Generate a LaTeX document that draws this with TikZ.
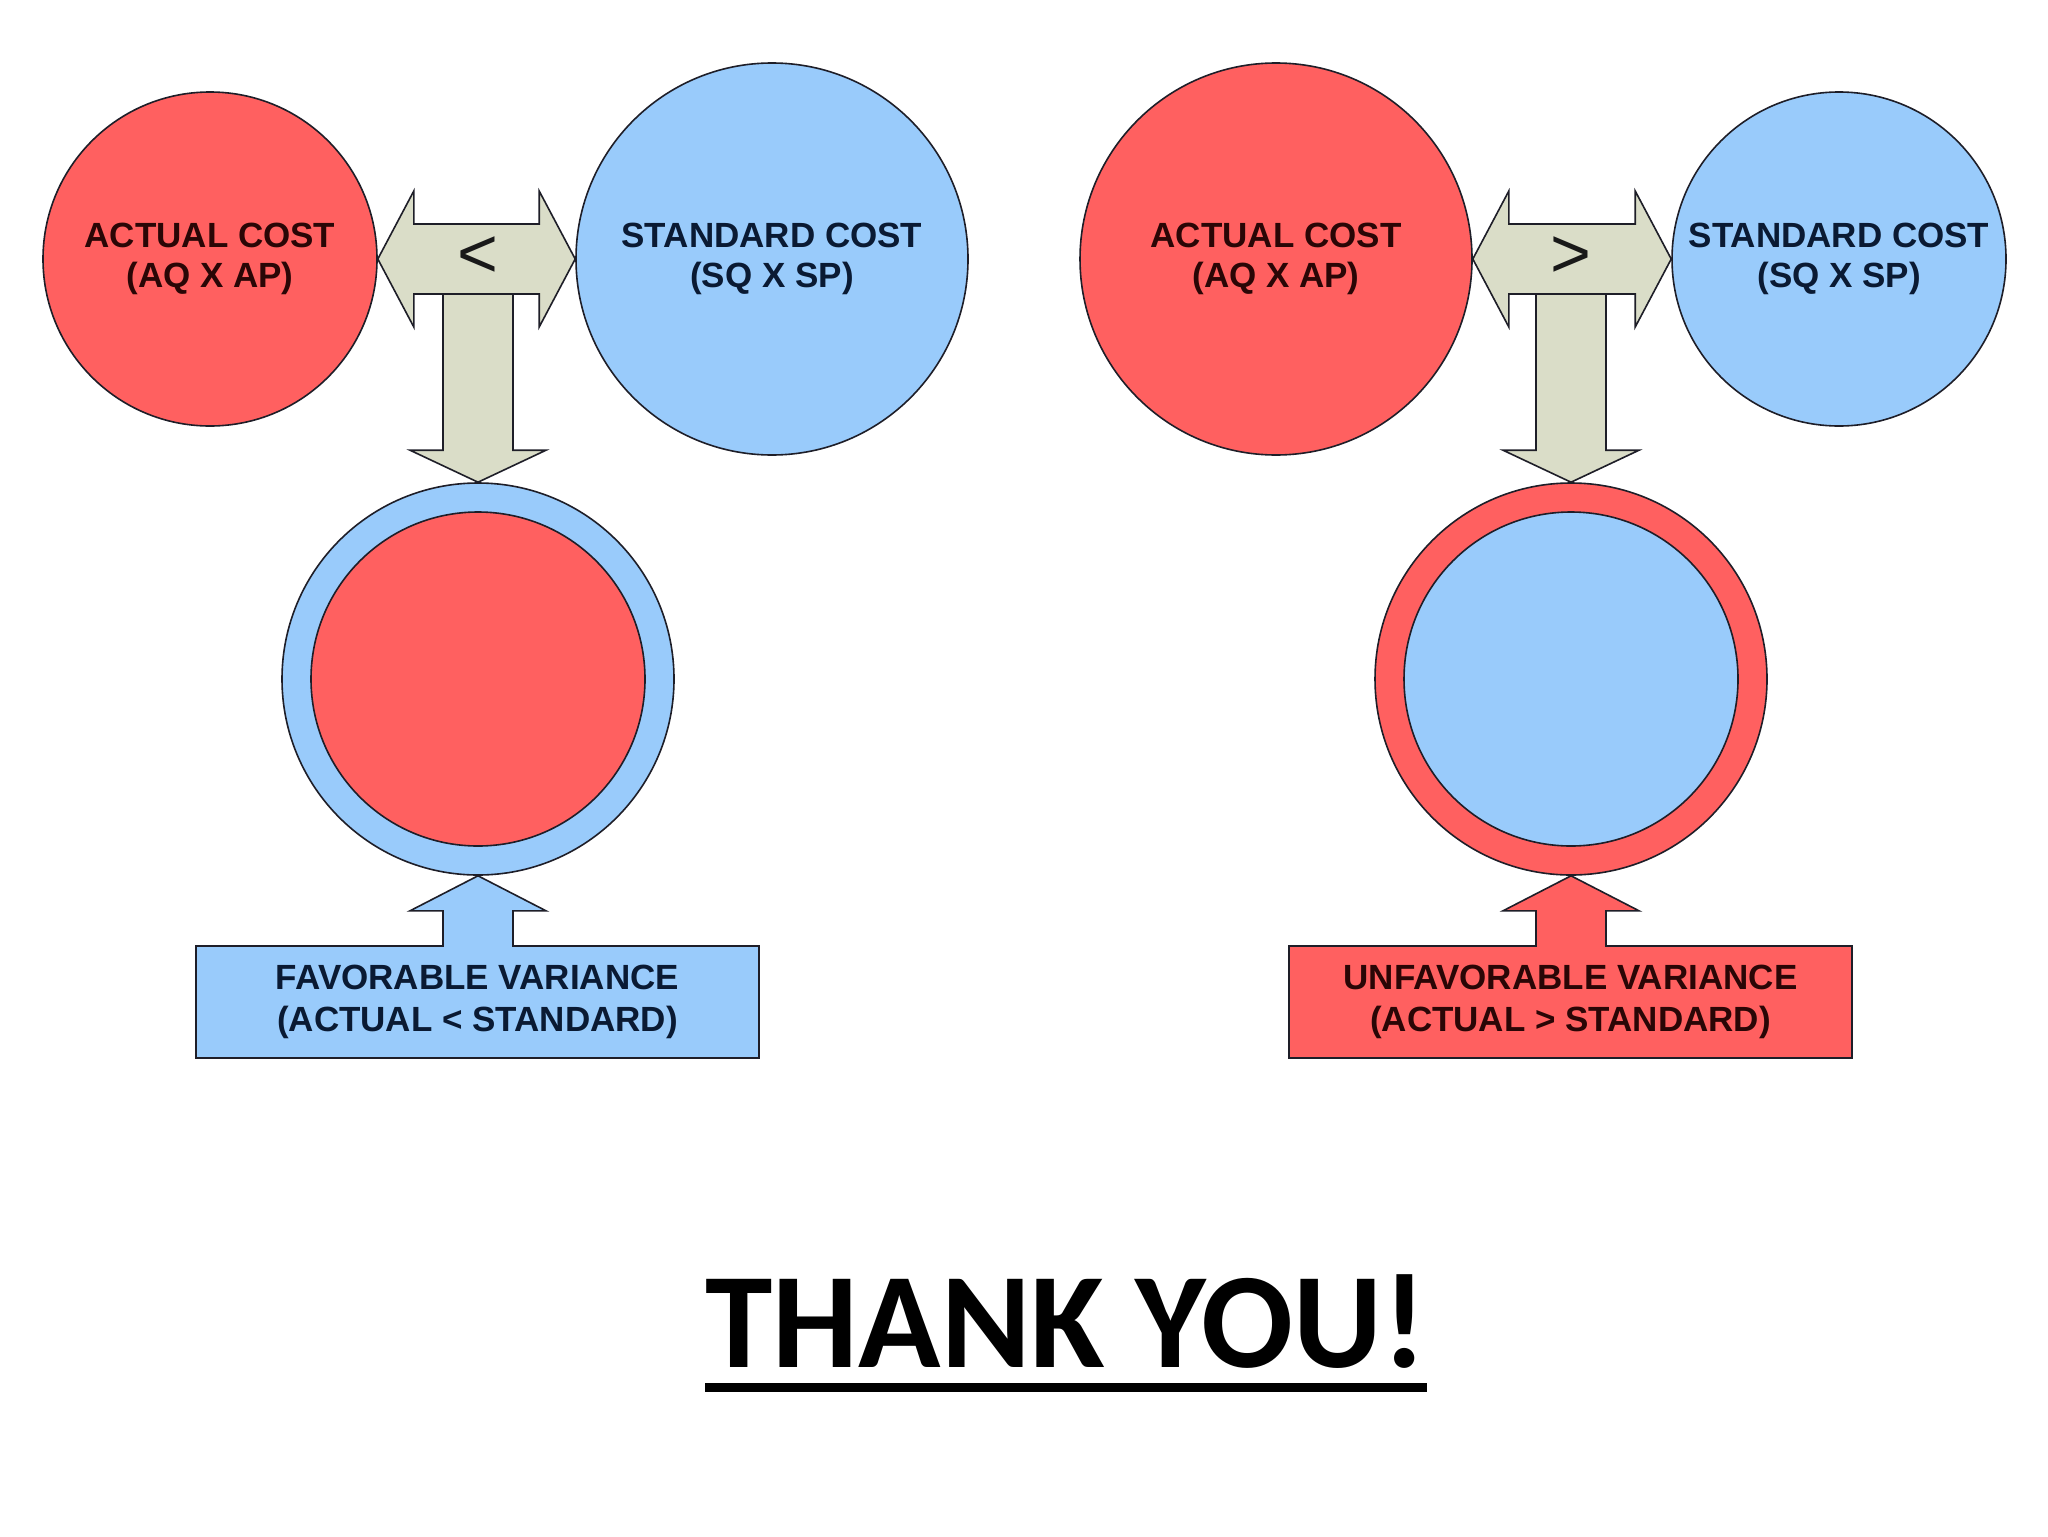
\documentclass[tikz,border=0pt]{standalone}
\usepackage{fontspec}
\setmainfont{Liberation Sans}
\newfontfamily\thankfont{Carlito}
\usetikzlibrary{calc}
\definecolor{redc}{HTML}{FF6060}
\definecolor{bluec}{HTML}{99CBFB}
\definecolor{arrowc}{HTML}{DADDC8}
\definecolor{redtxt}{HTML}{2A0606}
\definecolor{bluetxt}{HTML}{0A1A33}
\definecolor{edge}{HTML}{1E1E28}
\newcommand\DoubleArrow[2]{%
  \filldraw[arrowshape] (#1) -- ($(#1)+(36,-68)$) -- ($(#1)+(36,-35)$) -- ($(#2)+(-36,-35)$) -- ($(#2)+(-36,-68)$) -- (#2) -- ($(#2)+(-36,68)$) -- ($(#2)+(-36,35)$) -- ($(#1)+(36,35)$) -- ($(#1)+(36,68)$) -- cycle;}
\newcommand\DownArrow[1]{%
  \filldraw[arrowshape] ($(#1)+(-35,-190)$) -- ($(#1)+(-35,-32)$) -- ($(#1)+(-68,-32)$) -- (#1) -- ($(#1)+(68,-32)$) -- ($(#1)+(35,-32)$) -- ($(#1)+(35,-190)$);}
\newcommand\UpArrow[2]{%
  \fill[#2] ($(#1)+(-35,74)$) -- ($(#1)+(-35,35)$) -- ($(#1)+(-68,35)$) -- (#1) -- ($(#1)+(68,35)$) -- ($(#1)+(35,35)$) -- ($(#1)+(35,74)$) -- cycle;
  \draw[edgeline] ($(#1)+(-35,71)$) -- ($(#1)+(-35,35)$) -- ($(#1)+(-68,35)$) -- (#1) -- ($(#1)+(68,35)$) -- ($(#1)+(35,35)$) -- ($(#1)+(35,71)$);}
\begin{document}
\begin{tikzpicture}[x=0.5pt,y=-0.5pt,
  edgeline/.style={draw=edge, line width=0.8pt, line join=miter},
  arrowshape/.style={edgeline, fill=arrowc},
  bubble/.style={circle, edgeline, inner sep=0pt, align=center, font=\bfseries\fontsize{17.5}{20}\selectfont},
  redbubble/.style={bubble, fill=redc, text=redtxt},
  bluebubble/.style={bubble, fill=bluec, text=bluetxt},
  varbox/.style={rectangle, edgeline, inner sep=0pt, minimum width=281.5pt, minimum height=56pt, align=center, font=\bfseries\fontsize{17.5}{21}\selectfont},
  relsign/.style={font=\fontsize{35}{35}\selectfont, text=black!90, inner sep=0pt}
]
\useasboundingbox[fill=white] (0,0) rectangle (2048,1536);

% ---------- left group ----------
\node[redbubble, minimum size=167pt] (ac1) at (210,259) {ACTUAL COST\\(AQ X AP)};
\node[bluebubble, minimum size=196pt] (sc1) at (772,259) {STANDARD COST\\(SQ X SP)};
\node[bluebubble, minimum size=196pt] (ring1) at (478,679) {};
\node[redbubble, minimum size=167pt] (core1) at (ring1.center) {};
\DownArrow{ring1.north}
\DoubleArrow{ac1.east}{sc1.west}
\node[relsign] (lt1) at (478,257) {<};
\node[varbox, fill=bluec, text=bluetxt] (fav) at (477.5,1002) {FAVORABLE VARIANCE\\(ACTUAL < STANDARD)};
\UpArrow{ring1.south}{bluec}

% ---------- right group ----------
\node[redbubble, minimum size=196pt] (ac2) at (1276,259) {ACTUAL COST\\(AQ X AP)};
\node[bluebubble, minimum size=167pt] (sc2) at (1839,259) {STANDARD COST\\(SQ X SP)};
\node[redbubble, minimum size=196pt] (ring2) at (1571,679) {};
\node[bluebubble, minimum size=167pt] (core2) at (ring2.center) {};
\DownArrow{ring2.north}
\DoubleArrow{ac2.east}{sc2.west}
\node[relsign] (gt2) at (1571,257) {>};
\node[varbox, fill=redc, text=redtxt] (unfav) at (1570.5,1002) {UNFAVORABLE VARIANCE\\(ACTUAL > STANDARD)};
\UpArrow{ring2.south}{redc}

% ---------- thank you ----------
\node[inner sep=0pt, anchor=base, font=\thankfont\bfseries\fontsize{68}{82}\selectfont] (thanks) at (1066,1367) {THANK YOU!};
\fill ($(thanks.base west)+(0,16)$) rectangle ($(thanks.base east)+(0,25)$);
\end{tikzpicture}
\end{document}
